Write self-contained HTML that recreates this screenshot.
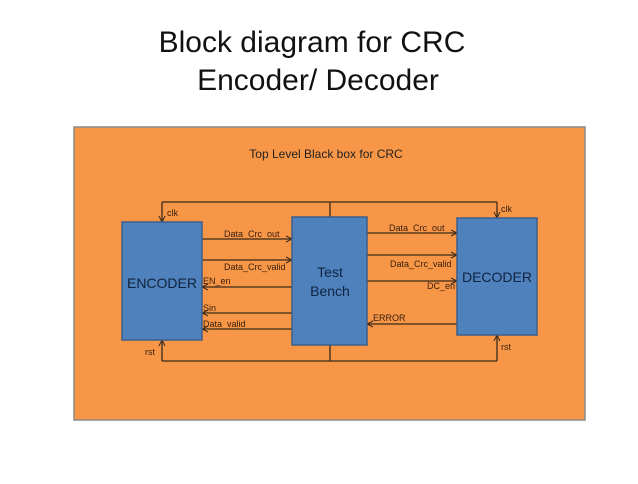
<!DOCTYPE html>
<html><head><style>
body{margin:0;background:#fff;width:638px;height:479px;overflow:hidden}
</style></head><body>
<svg width="638" height="479" xmlns="http://www.w3.org/2000/svg" font-family="Liberation Sans, sans-serif">
<defs><marker id="a" markerWidth="8" markerHeight="8" refX="7" refY="4" orient="auto" markerUnits="userSpaceOnUse"><path d="M1,1 L7,4 L1,7" fill="none" stroke="#3a2a1a" stroke-width="1"/></marker></defs>
<text x="312" y="52" font-size="30" text-anchor="middle" fill="#111">Block diagram for CRC</text>
<text x="318" y="90" font-size="30" text-anchor="middle" fill="#111">Encoder/ Decoder</text>
<rect x="74" y="127" width="511" height="293" fill="#f79646" stroke="#8a8a8a" stroke-width="1.5"/>
<text x="326" y="158" font-size="12" text-anchor="middle" fill="#222">Top Level Black box for CRC</text>
<g stroke="#3a2a1a" stroke-width="1.3" fill="none">
<path d="M330,217 V202 M162,202 H497"/>
<path d="M162,202 V222" marker-end="url(#a)"/>
<path d="M497,202 V218" marker-end="url(#a)"/>
<path d="M330,345 V361 M162,361 H497"/>
<path d="M162,361 V340" marker-end="url(#a)"/>
<path d="M497,361 V335" marker-end="url(#a)"/>
<path d="M202,239 H292" marker-end="url(#a)"/>
<path d="M202,260 H292" marker-end="url(#a)"/>
<path d="M292,287 H202" marker-end="url(#a)"/>
<path d="M292,313 H202" marker-end="url(#a)"/>
<path d="M292,329 H202" marker-end="url(#a)"/>
<path d="M367,233 H457" marker-end="url(#a)"/>
<path d="M367,255 H457" marker-end="url(#a)"/>
<path d="M367,281 H457" marker-end="url(#a)"/>
<path d="M457,324 H367" marker-end="url(#a)"/>
</g>
<g fill="#4f81bd" stroke="#3b5f8c" stroke-width="1.5">
<rect x="122" y="222" width="80" height="118"/>
<rect x="292" y="217" width="75" height="128"/>
<rect x="457" y="218" width="80" height="117"/>
</g>
<g fill="#10233f" text-anchor="middle" font-size="14">
<text x="162" y="288">ENCODER</text>
<text x="330" y="277">Test</text>
<text x="330" y="296">Bench</text>
<text x="497" y="282">DECODER</text>
</g>
<g fill="#3a2010" font-size="9">
<text x="167" y="216">clk</text>
<text x="501" y="212">clk</text>
<text x="145" y="355">rst</text>
<text x="501" y="350">rst</text>
<text x="224" y="237">Data_Crc_out</text>
<text x="224" y="270">Data_Crc_valid</text>
<text x="203" y="284">EN_en</text>
<text x="203" y="311">Sin</text>
<text x="203" y="327">Data_valid</text>
<text x="389" y="231">Data_Crc_out</text>
<text x="390" y="267">Data_Crc_valid</text>
<text x="427" y="289">DC_en</text>
<text x="373" y="321">ERROR</text>
</g>
</svg>
</body></html>
